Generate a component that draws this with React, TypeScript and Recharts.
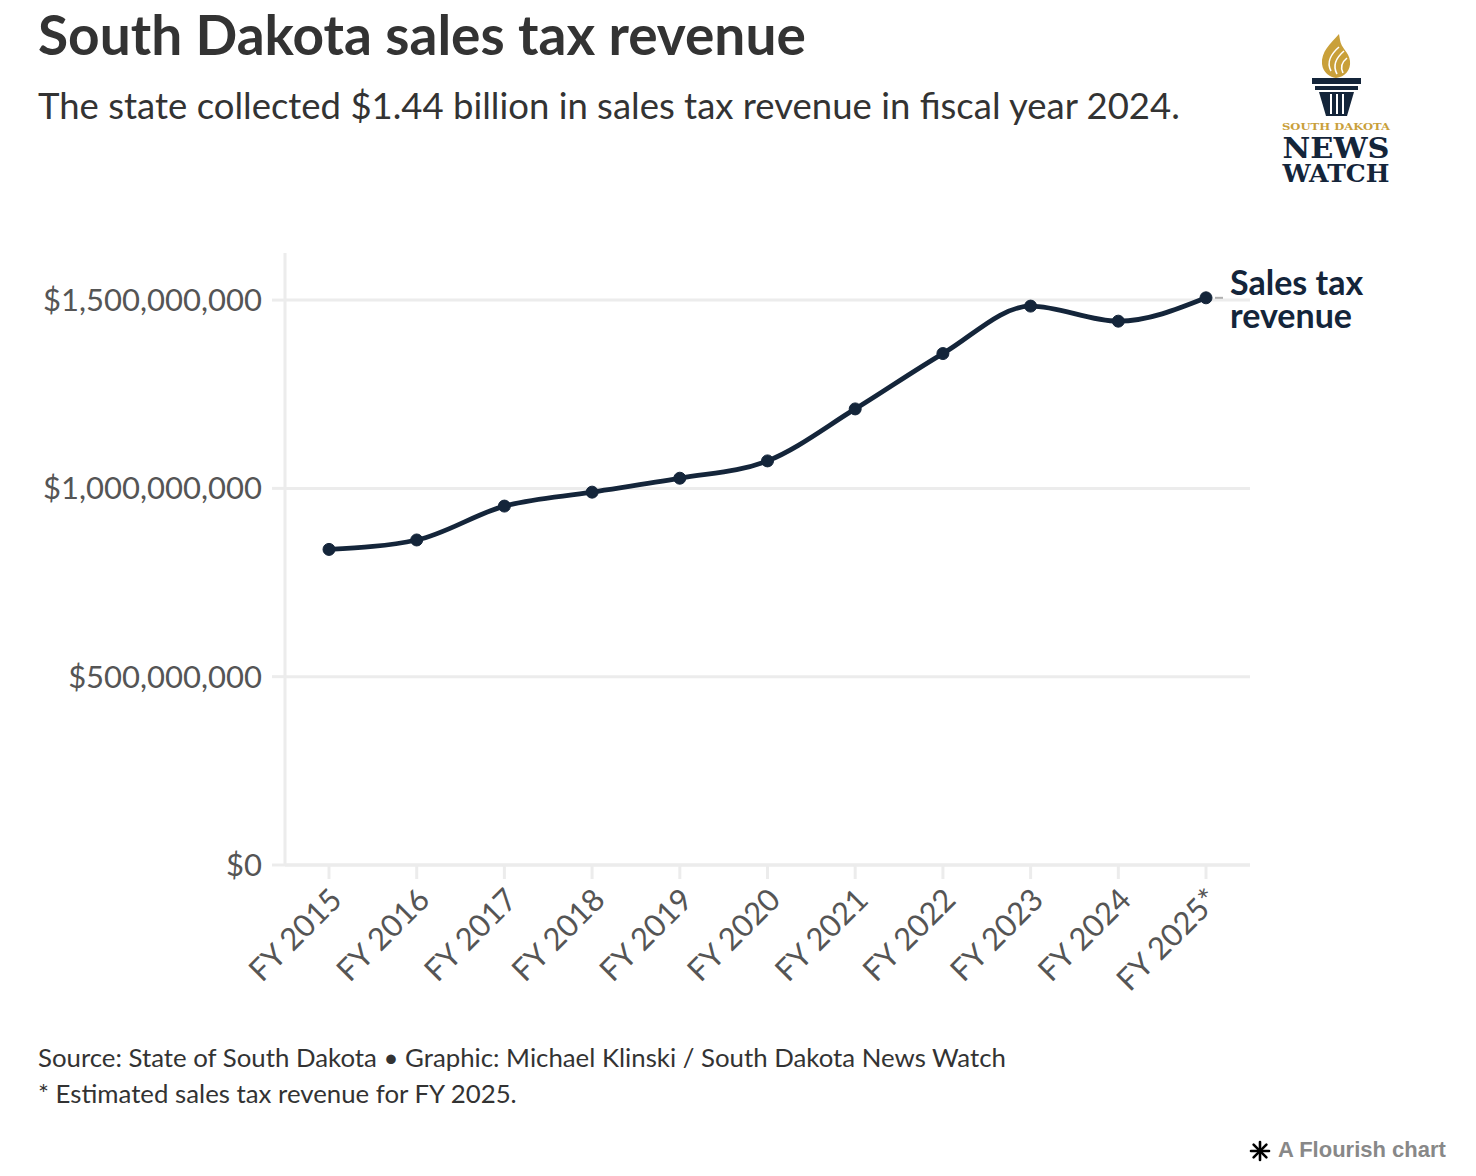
import React from "react";
import { LineChart, Line, XAxis, YAxis, ReferenceLine, LabelList } from "recharts";

const fiscalYears = [
  "FY 2015", "FY 2016", "FY 2017", "FY 2018", "FY 2019", "FY 2020",
  "FY 2021", "FY 2022", "FY 2023", "FY 2024", "FY 2025*",
];
const salesTaxRevenue = [
  838000000, 863000000, 953000000, 990000000, 1027000000, 1073000000,
  1211000000, 1358000000, 1484000000, 1444000000, 1506000000,
];
const yTicks = [0, 500000000, 1000000000, 1500000000];
const yMax = 1625000000;
const seriesLabel = ["Sales tax", "revenue"];

const data = fiscalYears.map((year, i) => ({ year, revenue: salesTaxRevenue[i] }));

const FONT = "'Source Sans Pro', Lato, sans-serif";
const NAVY = "#14253a";
const GOLD = "#c9a03a";
const AXIS = "#ececec";
const TICK_TEXT = "#555";

const fmtDollars = (v: number) => "$" + v.toLocaleString("en-US");

function XTick({ x, y, payload }: any) {
  return (
    <g transform={`translate(${x + 7},${y + 13})`}>
      <text
        textAnchor="end"
        transform="rotate(-45)"
        dy="0.35em"
        fill={TICK_TEXT}
        fontSize={31}
        fontFamily={FONT}
      >
        {payload.value}
      </text>
    </g>
  );
}

function EndLabel({ x, y, index }: any) {
  if (index !== data.length - 1) return null;
  return (
    <g>
      <line x1={x + 9} x2={x + 17} y1={y} y2={y} stroke="#b0b0b0" strokeWidth={2} />
      {seriesLabel.map((line, i) => (
        <text
          key={line}
          x={x + 24}
          y={y - 15 + i * 33}
          dy="0.35em"
          fill={NAVY}
          fontSize={34}
          fontWeight={700}
          fontFamily={FONT}
        >
          {line}
        </text>
      ))}
    </g>
  );
}

function Logo() {
  return (
    <svg width={160} height={175} style={{ position: "absolute", left: 1260, top: 20 }}>
      {/* flame */}
      <path
        d="M79 14 C70 24 61 32 62 44 C63 53 70 57 76 58 C85 57 91 50 90 41 C89 32 81 28 80 20 Z"
        fill={GOLD}
      />
      <path d="M71 51 C66 42 72 33 79 27" stroke="#fff" strokeWidth={1.6} fill="none" />
      <path d="M77 54 C72 45 77 37 84 31" stroke="#fff" strokeWidth={1.6} fill="none" />
      <path d="M83 53 C80 47 82 42 87 38" stroke="#fff" strokeWidth={1.6} fill="none" />
      {/* cup */}
      <rect x={52} y={58} width={49} height={6} fill={NAVY} />
      <rect x={55} y={66} width={43} height={4} fill={NAVY} />
      <path d="M59 72 L94 72 L87 96 L66 96 Z" fill={NAVY} />
      <rect x={70} y={74} width={2} height={20} fill="#fff" />
      <rect x={76} y={74} width={2} height={20} fill="#fff" />
      <rect x={82} y={74} width={2} height={20} fill="#fff" />
      <text
        x={76}
        y={110}
        textAnchor="middle"
        fill={GOLD}
        fontSize={10}
        fontWeight={700}
        fontFamily="'DejaVu Serif', serif"
        textLength={108}
        lengthAdjust="spacingAndGlyphs"
      >
        SOUTH DAKOTA
      </text>
      <text
        x={76}
        y={138}
        textAnchor="middle"
        fill={NAVY}
        fontSize={28}
        fontWeight={700}
        fontFamily="'DejaVu Serif', serif"
        textLength={107}
        lengthAdjust="spacingAndGlyphs"
      >
        NEWS
      </text>
      <text
        x={76}
        y={162}
        textAnchor="middle"
        fill={NAVY}
        fontSize={25}
        fontWeight={700}
        fontFamily="'DejaVu Serif', serif"
        textLength={107}
        lengthAdjust="spacingAndGlyphs"
      >
        WATCH
      </text>
    </svg>
  );
}

export default function App() {
  return (
    <div
      style={{
        position: "absolute",
        left: 0,
        top: 0,
        width: 1476,
        height: 1176,
        background: "#fff",
        fontFamily: FONT,
        overflow: "hidden",
      }}
    >
      <div
        style={{
          position: "absolute",
          left: 38,
          top: 7,
          fontSize: 55,
          fontWeight: 700,
          lineHeight: 1,
          color: "#333",
          whiteSpace: "nowrap",
        }}
      >
        South Dakota sales tax revenue
      </div>
      <div
        style={{
          position: "absolute",
          left: 38,
          top: 87,
          fontSize: 36.5,
          lineHeight: 1,
          color: "#333",
          whiteSpace: "nowrap",
        }}
      >
        The state collected $1.44 billion in sales tax revenue in fiscal year 2024.
      </div>
      <Logo />
      <div style={{ position: "absolute", left: 0, top: 0 }}>
        <LineChart
          width={1476}
          height={1176}
          data={data}
          margin={{ top: 253, right: 226, bottom: 0, left: 0 }}
        >
          {yTicks.map((t) => (
            <ReferenceLine key={t} y={t} stroke={AXIS} strokeWidth={3} />
          ))}
          <XAxis
            dataKey="year"
            height={311}
            interval={0}
            padding={{ left: 44, right: 44 }}
            axisLine={{ stroke: AXIS, strokeWidth: 3 }}
            tickLine={{ stroke: AXIS, strokeWidth: 3 }}
            tickSize={14}
            tick={<XTick />}
          />
          <YAxis
            width={285}
            domain={[0, yMax]}
            ticks={yTicks}
            interval={0}
            tickFormatter={fmtDollars}
            axisLine={{ stroke: AXIS, strokeWidth: 3 }}
            tickLine={{ stroke: AXIS, strokeWidth: 3 }}
            tickSize={13}
            tickMargin={10}
            tick={{ fill: TICK_TEXT, fontSize: 31, fontFamily: FONT }}
          />
          <Line
            type="monotone"
            dataKey="revenue"
            stroke={NAVY}
            strokeWidth={4.8}
            dot={{ r: 6, fill: NAVY, stroke: NAVY, strokeWidth: 1 }}
            activeDot={false}
            isAnimationActive={false}
          >
            <LabelList dataKey="revenue" content={<EndLabel />} />
          </Line>
        </LineChart>
      </div>
      <div
        style={{
          position: "absolute",
          left: 38,
          top: 1045,
          fontSize: 25.8,
          lineHeight: 1,
          color: "#333",
          whiteSpace: "nowrap",
        }}
      >
        Source: State of South Dakota • Graphic: Michael Klinski / South Dakota News Watch
      </div>
      <div
        style={{
          position: "absolute",
          left: 38,
          top: 1081,
          fontSize: 25.8,
          lineHeight: 1,
          color: "#333",
          whiteSpace: "nowrap",
        }}
      >
        * Estimated sales tax revenue for FY 2025.
      </div>
      <svg width={22} height={22} style={{ position: "absolute", left: 1249, top: 1140 }}>
        <g stroke="#000" strokeWidth={2.6} strokeLinecap="round">
          <line x1={11} y1={2} x2={11} y2={20} />
          <line x1={2} y1={11} x2={20} y2={11} />
          <line x1={4.6} y1={4.6} x2={17.4} y2={17.4} />
          <line x1={17.4} y1={4.6} x2={4.6} y2={17.4} />
        </g>
      </svg>
      <div
        style={{
          position: "absolute",
          left: 1278,
          top: 1139,
          fontSize: 22,
          fontWeight: 700,
          lineHeight: 1,
          color: "#888",
          fontFamily: "'Liberation Sans', Arial, sans-serif",
          whiteSpace: "nowrap",
        }}
      >
        A Flourish chart
      </div>
    </div>
  );
}
